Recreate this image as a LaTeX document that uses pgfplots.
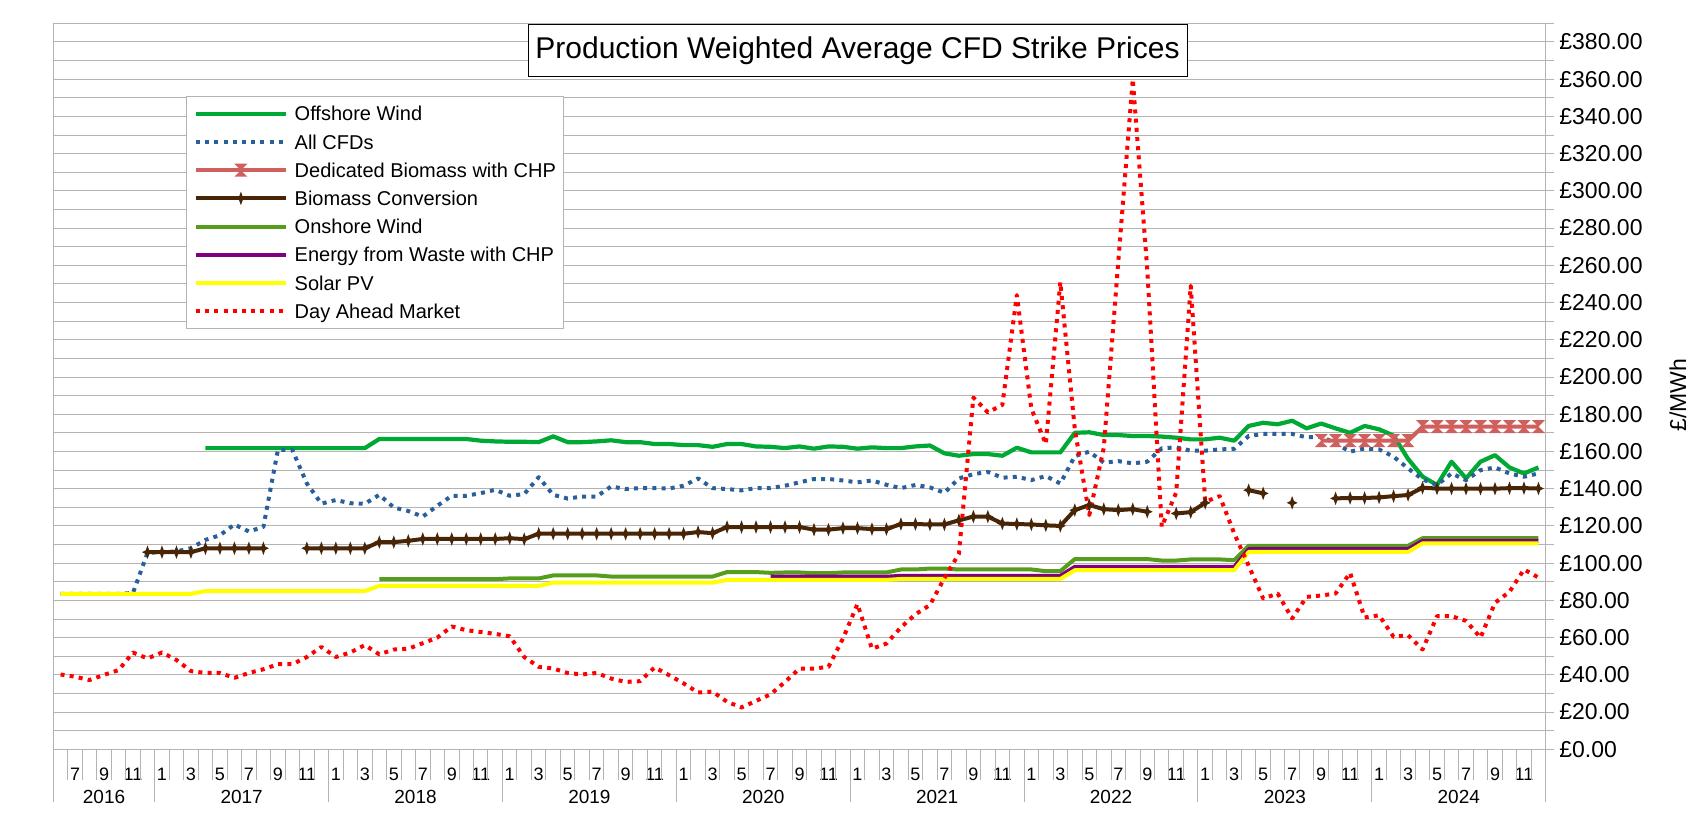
\documentclass[border=0pt]{standalone}
\usepackage{fontspec}
\setmainfont{Liberation Sans}
\usepackage{pgfplots}
\pgfplotsset{compat=1.18}
\definecolor{gridgray}{HTML}{B3B3B3}
\definecolor{offw}{HTML}{00A933}
\definecolor{allcfd}{HTML}{2A6099}
\definecolor{dbchp}{HTML}{D0605E}
\definecolor{bconv}{HTML}{482506}
\definecolor{onw}{HTML}{579D1C}
\definecolor{efw}{HTML}{800080}
\definecolor{solar}{HTML}{FFFF00}
\definecolor{dam}{HTML}{FF0000}
\pgfdeclareplotmark{hourglass}{%
 \pgfpathmoveto{\pgfqpoint{-\pgfplotmarksize}{\pgfplotmarksize}}%
 \pgfpathlineto{\pgfqpoint{\pgfplotmarksize}{\pgfplotmarksize}}%
 \pgfpathlineto{\pgfqpoint{-\pgfplotmarksize}{-\pgfplotmarksize}}%
 \pgfpathlineto{\pgfqpoint{\pgfplotmarksize}{-\pgfplotmarksize}}%
 \pgfpathclose\pgfusepathqfill}
\pgfdeclareplotmark{spindle}{%
 \pgfpathmoveto{\pgfqpoint{0pt}{\pgfplotmarksize}}%
 \pgfpathlineto{\pgfqpoint{0.9pt}{0.9pt}}%
 \pgfpathlineto{\pgfqpoint{0.8\pgfplotmarksize}{0pt}}%
 \pgfpathlineto{\pgfqpoint{0.9pt}{-0.9pt}}%
 \pgfpathlineto{\pgfqpoint{0pt}{-\pgfplotmarksize}}%
 \pgfpathlineto{\pgfqpoint{-0.9pt}{-0.9pt}}%
 \pgfpathlineto{\pgfqpoint{-0.8\pgfplotmarksize}{0pt}}%
 \pgfpathlineto{\pgfqpoint{-0.9pt}{0.9pt}}%
 \pgfpathclose\pgfusepathqfill}
\tikzset{yearlab/.style={anchor=base, inner sep=0pt, font=\fontsize{9.5pt}{11pt}\selectfont}}
\begin{document}
\begin{tikzpicture}
\useasboundingbox (0,0) rectangle (845.5pt,-412pt);
\begin{axis}[
 at={(26.65pt,-374.65pt)}, anchor=south west,
 scale only axis, width=746.2pt, height=363pt,
 xmin=-0.5, xmax=102.5, ymin=0, ymax=390,
 clip=false,
 axis line style={gridgray, line width=0.5pt},
 ytick={0,20,...,380}, minor ytick={10,30,...,390},
 ymajorgrids, yminorgrids,
 major grid style={gridgray, line width=0.5pt},
 minor grid style={gridgray, line width=0.5pt},
 ytick pos=right, yticklabel pos=right,
 tick align=outside, major tick length=4pt, minor tick length=4pt,
 tick style={gridgray, line width=0.5pt},
 xtick={1,3,...,101},
 xticklabels={7,9,11,1,3,5,7,9,11,1,3,5,7,9,11,1,3,5,7,9,11,1,3,5,7,9,11,1,3,5,7,9,11,1,3,5,7,9,11,1,3,5,7,9,11,1,3,5,7,9,11},
 xtick style={draw=none},
 xticklabel style={anchor=base, inner sep=0pt, yshift=-11.7pt, font=\fontsize{9pt}{11pt}\selectfont},
 yticklabel style={anchor=west, inner sep=0pt, xshift=2.65pt, font=\fontsize{11.5pt}{13pt}\selectfont},
 yticklabel={£\pgfmathprintnumber[fixed,fixed zerofill,precision=2,assume math mode=true]{\tick}},
 unbounded coords=jump,
 line join=round,
 legend cell align=left,
 legend style={at={(0.08872,0.90028)}, anchor=north west, draw=gridgray, line width=0.5pt, fill=white,
   font=\fontsize{10pt}{12pt}\selectfont, inner xsep=3.8pt, inner ysep=1.75pt, row sep=0pt, column sep=3.35pt,
   nodes={inner sep=0pt, text height=10.63pt, text depth=3.47pt}},
 legend image code/.code={\draw[mark repeat=2,mark phase=2,#1] plot coordinates {(0pt,0pt) (22.5pt,0pt) (45pt,0pt)};},
]
% Offshore Wind
\addplot[offw, line width=2.1pt] coordinates {
(10,161.8)(11,161.8)(12,161.8)(13,161.8)(14,161.8)(15,161.8)(16,161.8)(17,161.8)(18,161.8)(19,161.8)(20,161.8)(21,161.8)
(22,166.7)(23,166.7)(24,166.7)(25,166.7)(26,166.7)(27,166.7)(28,166.7)(29,165.8)(30,165.4)(31,165.2)(32,165.2)(33,165.0)
(34,168.1)(35,165.0)(36,165.0)(37,165.4)(38,166.0)(39,165.0)(40,165.0)(41,164.0)(42,164.0)(43,163.4)(44,163.4)(45,162.5)
(46,164.0)(47,164.0)(48,162.7)(49,162.5)(50,161.8)(51,162.7)(52,161.5)(53,162.7)(54,162.5)(55,161.5)(56,162.2)(57,161.8)
(58,161.8)(59,162.7)(60,163.2)(61,159.0)(62,157.7)(63,158.6)(64,158.6)(65,157.7)(66,162.0)(67,159.5)(68,159.5)(69,159.5)
(70,170.0)(71,170.3)(72,168.8)(73,168.8)(74,168.3)(75,168.3)(76,168.0)(77,167.4)(78,166.5)(79,166.5)(80,167.4)(81,165.8)
(82,173.7)(83,175.4)(84,174.6)(85,176.5)(86,172.4)(87,175.0)(88,172.4)(89,170.0)(90,173.7)(91,171.9)(92,168.5)(93,156.0)
(94,146.5)(95,142.0)(96,154.5)(97,145.5)(98,154.5)(99,158.0)(100,151.4)(101,148.2)(102,151.4)};
\addlegendentry{Offshore Wind}
% All CFDs
\addplot[allcfd, line width=2pt, dash pattern=on 2pt off 2.6pt] coordinates {
(0,83.5)(1,83.5)(2,83.5)(3,83.5)(4,83.5)(5,84.0)(6,105.5)(7,106.0)(8,106.3)(9,108.0)(10,112.5)(11,115.0)
(12,120.8)(13,117.0)(14,119.5)(15,160.8)(16,160.8)(17,142.8)(18,132.0)(19,133.9)(20,132.2)(21,131.9)(22,136.7)(23,129.9)
(24,128.0)(25,125.0)(26,130.8)(27,136.2)(28,136.2)(29,137.6)(30,139.4)(31,136.2)(32,137.1)(33,146.2)(34,136.7)(35,134.7)
(36,135.8)(37,135.8)(38,141.2)(39,139.8)(40,140.3)(41,140.3)(42,140.1)(43,141.6)(44,145.5)(45,140.3)(46,139.8)(47,139.1)
(48,140.3)(49,140.3)(50,141.6)(51,143.4)(52,145.2)(53,145.2)(54,144.4)(55,143.4)(56,144.4)(57,142.1)(58,140.3)(59,142.0)
(60,140.7)(61,137.8)(62,145.5)(63,147.8)(64,149.0)(65,145.9)(66,146.4)(67,144.6)(68,146.8)(69,142.8)(70,157.5)(71,159.9)
(72,154.0)(73,154.8)(74,153.6)(75,154.5)(76,161.7)(77,162.2)(78,160.4)(79,160.4)(80,161.1)(81,161.4)(82,168.3)(83,169.4)
(84,169.4)(85,169.4)(86,167.6)(87,168.0)(88,164.3)(89,159.9)(90,161.6)(91,161.1)(92,157.2)(93,150.9)(94,145.0)(95,142.0)
(96,148.2)(97,144.6)(98,150.0)(99,151.4)(100,148.2)(101,146.4)(102,148.2)};
\addlegendentry{All CFDs}
% Dedicated Biomass with CHP
\addplot[dbchp, line width=2pt, mark=hourglass, mark size=3.25pt, mark options={fill=dbchp}] coordinates {
(87,165.8)(88,165.8)(89,165.8)(90,165.8)(91,165.8)(92,165.8)(93,165.8)(94,173.3)(95,173.3)(96,173.3)(97,173.3)(98,173.3)
(99,173.3)(100,173.3)(101,173.3)(102,173.3)};
\addlegendentry{Dedicated Biomass with CHP}
% Biomass Conversion
\addplot[bconv, line width=2pt, mark=spindle, mark size=3.4pt, mark options={fill=bconv}] coordinates {
(6,105.9)(7,105.9)(8,105.9)(9,105.9)(10,108.0)(11,108.0)(12,108.0)(13,108.0)(14,108.0)(15,nan)(16,nan)(17,108.0)
(18,108.0)(19,108.0)(20,108.0)(21,108.0)(22,111.3)(23,111.3)(24,112.0)(25,113.0)(26,113.0)(27,113.0)(28,113.0)(29,113.0)
(30,113.0)(31,113.4)(32,112.9)(33,115.8)(34,115.8)(35,115.8)(36,115.8)(37,115.8)(38,115.8)(39,115.8)(40,115.8)(41,115.8)
(42,115.8)(43,115.8)(44,116.7)(45,116.1)(46,119.4)(47,119.4)(48,119.4)(49,119.4)(50,119.4)(51,119.4)(52,118.0)(53,118.0)
(54,118.8)(55,118.8)(56,118.3)(57,118.3)(58,121.0)(59,121.0)(60,120.8)(61,120.8)(62,123.0)(63,125.0)(64,125.0)(65,121.3)
(66,121.0)(67,120.8)(68,120.3)(69,120.0)(70,128.5)(71,131.2)(72,129.0)(73,128.5)(74,129.0)(75,127.6)(76,nan)(77,126.7)
(78,127.4)(79,132.4)(80,nan)(81,nan)(82,139.2)(83,137.5)(84,nan)(85,132.4)(86,nan)(87,nan)(88,134.8)(89,135.0)
(90,135.0)(91,135.3)(92,136.0)(93,136.6)(94,140.5)(95,140.1)(96,140.1)(97,140.0)(98,140.0)(99,140.0)(100,140.3)(101,140.3)(102,140.1)};
\addlegendentry{Biomass Conversion}
% Onshore Wind
\addplot[onw, line width=2pt] coordinates {
(22,91.4)(23,91.4)(24,91.4)(25,91.4)(26,91.4)(27,91.4)(28,91.4)(29,91.4)(30,91.4)(31,91.8)(32,91.8)(33,91.8)
(34,93.4)(35,93.4)(36,93.4)(37,93.4)(38,92.8)(39,92.8)(40,92.8)(41,92.8)(42,92.8)(43,92.8)(44,92.8)(45,92.8)
(46,95.2)(47,95.2)(48,95.2)(49,94.8)(50,95.0)(51,95.0)(52,94.6)(53,94.6)(54,95.0)(55,95.0)(56,95.0)(57,95.0)
(58,96.6)(59,96.6)(60,97.1)(61,97.1)(62,96.6)(63,96.6)(64,96.6)(65,96.6)(66,96.6)(67,96.6)(68,95.7)(69,95.7)
(70,102.2)(71,102.2)(72,102.2)(73,102.2)(74,102.2)(75,102.2)(76,101.4)(77,101.4)(78,102.0)(79,102.0)(80,102.0)(81,101.6)
(82,109.3)(83,109.3)(84,109.3)(85,109.3)(86,109.3)(87,109.3)(88,109.3)(89,109.3)(90,109.3)(91,109.3)(92,109.3)(93,109.3)
(94,113.4)(95,113.4)(96,113.4)(97,113.4)(98,113.4)(99,113.4)(100,113.4)(101,113.4)(102,113.4)};
\addlegendentry{Onshore Wind}
% Energy from Waste with CHP
\addplot[efw, line width=2pt] coordinates {
(49,92.7)(50,92.7)(51,92.7)(52,92.7)(53,92.7)(54,92.7)(55,92.7)(56,92.7)(57,92.7)
(58,93.2)(59,93.2)(60,93.2)(61,93.2)(62,93.2)(63,93.2)(64,93.2)(65,93.2)(66,93.2)(67,93.2)(68,93.2)(69,93.2)
(70,98.0)(71,98.0)(72,98.0)(73,98.0)(74,98.0)(75,98.0)(76,98.0)(77,98.0)(78,98.0)(79,98.0)(80,98.0)(81,98.0)
(82,107.5)(83,107.5)(84,107.5)(85,107.5)(86,107.5)(87,107.5)(88,107.5)(89,107.5)(90,107.5)(91,107.5)(92,107.5)(93,107.5)
(94,112.0)(95,112.0)(96,112.0)(97,112.0)(98,112.0)(99,112.0)(100,112.0)(101,112.0)(102,112.0)};
\addlegendentry{Energy from Waste with CHP}
% Solar PV
\addplot[solar, line width=2pt] coordinates {
(0,83.5)(1,83.5)(2,83.5)(3,83.5)(4,83.5)(5,83.5)(6,83.5)(7,83.5)(8,83.5)(9,83.5)
(10,85.0)(11,85.0)(12,85.0)(13,85.0)(14,85.0)(15,85.0)(16,85.0)(17,85.0)(18,85.0)(19,85.0)(20,85.0)(21,85.0)
(22,87.8)(23,87.8)(24,87.8)(25,87.8)(26,87.8)(27,87.8)(28,87.8)(29,87.8)(30,87.8)(31,87.8)(32,87.8)(33,87.8)
(34,89.5)(35,89.5)(36,89.5)(37,89.5)(38,89.5)(39,89.5)(40,89.5)(41,89.5)(42,89.5)(43,89.5)(44,89.5)(45,89.5)
(46,91.0)(47,91.0)(48,91.0)(49,91.0)(50,91.0)(51,91.0)(52,91.0)(53,91.0)(54,91.0)(55,91.0)(56,91.0)(57,91.0)
(58,91.5)(59,91.5)(60,91.5)(61,91.5)(62,91.5)(63,91.5)(64,91.5)(65,91.5)(66,91.5)(67,91.5)(68,91.5)(69,91.5)
(70,96.2)(71,96.2)(72,96.2)(73,96.2)(74,96.2)(75,96.2)(76,96.2)(77,96.2)(78,96.2)(79,96.2)(80,96.2)(81,96.2)
(82,106.0)(83,106.0)(84,106.0)(85,106.0)(86,106.0)(87,106.0)(88,106.0)(89,106.0)(90,106.0)(91,106.0)(92,106.0)(93,106.0)
(94,110.6)(95,110.6)(96,110.6)(97,110.6)(98,110.6)(99,110.6)(100,110.6)(101,110.6)(102,110.6)};
\addlegendentry{Solar PV}
% Day Ahead Market
\addplot[dam, line width=2pt, dash pattern=on 2pt off 2.6pt] coordinates {
(0,40.2)(1,39.0)(2,37.2)(3,40.0)(4,42.5)(5,52.0)(6,48.8)(7,52.0)(8,48.0)(9,42.0)(10,41.0)(11,41.0)
(12,38.4)(13,41.0)(14,43.0)(15,45.7)(16,45.7)(17,49.6)(18,55.0)(19,49.6)(20,52.0)(21,56.0)(22,51.0)(23,53.6)
(24,54.0)(25,57.0)(26,60.0)(27,66.0)(28,64.0)(29,63.0)(30,62.0)(31,60.7)(32,49.6)(33,44.3)(34,43.4)(35,41.0)
(36,40.2)(37,41.0)(38,38.0)(39,36.2)(40,36.6)(41,44.0)(42,39.8)(43,35.4)(44,30.5)(45,31.0)(46,25.5)(47,22.5)
(48,26.0)(49,29.5)(50,36.2)(51,43.4)(52,43.4)(53,44.3)(54,59.5)(55,78.0)(56,54.0)(57,56.8)(58,65.5)(59,72.5)
(60,77.5)(61,92.0)(62,105.0)(63,189.0)(64,181.0)(65,185.0)(66,244.0)(67,183.0)(68,164.0)(69,251.0)(70,172.0)(71,125.8)
(72,162.0)(73,262.0)(74,360.0)(75,258.0)(76,119.5)(77,138.0)(78,249.0)(79,133.0)(80,136.0)(81,116.0)(82,98.6)(83,81.0)
(84,83.7)(85,70.3)(86,81.9)(87,82.6)(88,83.7)(89,94.8)(90,70.8)(91,72.0)(92,60.4)(93,61.3)(94,53.6)(95,71.5)
(96,71.5)(97,69.0)(98,60.0)(99,78.7)(100,84.6)(101,96.6)(102,92.3)};
\addlegendentry{Day Ahead Market}
% category separators
\pgfplotsinvokeforeach{0,...,103}{\draw[gridgray,line width=0.5pt] (axis cs:{#1-0.5},0) -- ++(0pt,-15.5pt);}
\pgfplotsinvokeforeach{0,7,19,31,43,55,67,79,91,103}{\draw[gridgray,line width=0.5pt] (axis cs:{#1-0.5},0) -- ++(0pt,-26.2pt);}
\node[yearlab] at ([yshift=-27pt]axis cs:3,0) {2016};
\node[yearlab] at ([yshift=-27pt]axis cs:12.5,0) {2017};
\node[yearlab] at ([yshift=-27pt]axis cs:24.5,0) {2018};
\node[yearlab] at ([yshift=-27pt]axis cs:36.5,0) {2019};
\node[yearlab] at ([yshift=-27pt]axis cs:48.5,0) {2020};
\node[yearlab] at ([yshift=-27pt]axis cs:60.5,0) {2021};
\node[yearlab] at ([yshift=-27pt]axis cs:72.5,0) {2022};
\node[yearlab] at ([yshift=-27pt]axis cs:84.5,0) {2023};
\node[yearlab] at ([yshift=-27pt]axis cs:96.5,0) {2024};
\end{axis}
\node[draw=black, line width=0.5pt, fill=white, minimum width=329.5pt, minimum height=26pt, inner sep=0pt,
  font=\fontsize{15pt}{18pt}\selectfont] at (428.75pt,-25.5pt) {Production Weighted Average CFD Strike Prices};
\node[rotate=90, inner sep=0pt, font=\fontsize{11.5pt}{13pt}\selectfont] at (839pt,-197.5pt) {£/MWh};
\end{tikzpicture}
\end{document}
